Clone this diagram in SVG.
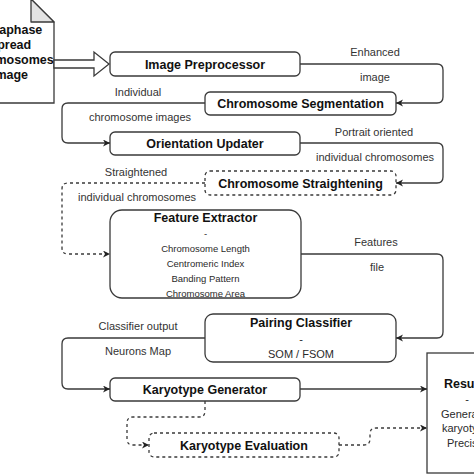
<svg xmlns="http://www.w3.org/2000/svg" width="474" height="474" viewBox="0 0 474 474">
<defs>
<style>
.box{fill:#fff;stroke:#3a3a3a;stroke-width:1.3}
.dash{stroke-dasharray:3 3}
.con{fill:none;stroke:#3a3a3a;stroke-width:1.3}
.t{font-family:"Liberation Sans",Arial,sans-serif;font-weight:bold;font-size:12.5px;fill:#111;text-anchor:middle}
.s{font-family:"Liberation Sans",Arial,sans-serif;font-size:9.5px;fill:#2a2a2a;text-anchor:middle}
.m{font-family:"Liberation Sans",Arial,sans-serif;font-size:11px;fill:#2a2a2a;text-anchor:middle}
.l{font-family:"Liberation Sans",Arial,sans-serif;font-size:11px;fill:#333;text-anchor:middle}
</style>
<marker id="arr" markerUnits="userSpaceOnUse" markerWidth="8" markerHeight="8" refX="7" refY="3.5" orient="auto">
<path d="M0,0 L7,3.5 L0,7 L2,3.5 Z" fill="#222"/>
</marker>
</defs>
<rect width="474" height="474" fill="#fff"/>

<g id="input-image">
<path class="box" d="M-32,-1 H31 L54,22 V103 H-32 Z"/>
<path d="M31,-1 V22 H54 Z" fill="#e3e3e3" stroke="#3a3a3a" stroke-width="1.3" stroke-linejoin="round"/>
<text class="t" x="10" y="34">Metaphase</text>
<text class="t" x="10" y="49">Spread</text>
<text class="t" x="10" y="64">Chromosomes</text>
<text class="t" x="10" y="79">Image</text>
</g>

<g id="input-arrow">
<path class="box" d="M54,60 H94 V52 L109,64 L94,76 V68 H54 Z"/>
</g>

<g id="image-preprocessor">
<rect class="box" x="110" y="52" width="190" height="24" rx="5"/>
<text class="t" x="205" y="68.5">Image Preprocessor</text>
</g>

<g id="chromosome-segmentation">
<rect class="box" x="205" y="92" width="191" height="23" rx="5"/>
<text class="t" x="300.5" y="108">Chromosome Segmentation</text>
</g>

<g id="orientation-updater">
<rect class="box" x="110" y="132" width="190" height="23" rx="5"/>
<text class="t" x="205" y="148">Orientation Updater</text>
</g>

<g id="chromosome-straightening">
<rect class="box dash" x="205" y="171" width="191" height="24" rx="5"/>
<text class="t" x="300.5" y="187.5">Chromosome Straightening</text>
</g>

<g id="feature-extractor">
<rect class="box" x="110" y="210" width="191" height="88" rx="12"/>
<text class="t" x="205.5" y="222">Feature Extractor</text>
<text class="s" x="205.5" y="237">-</text>
<text class="s" x="205.5" y="252">Chromosome Length</text>
<text class="s" x="205.5" y="267">Centromeric Index</text>
<text class="s" x="205.5" y="282">Banding Pattern</text>
<text class="s" x="205.5" y="297">Chromosome Area</text>
</g>

<g id="pairing-classifier">
<rect class="box" x="205" y="314" width="191" height="48" rx="8"/>
<text class="t" x="301" y="327">Pairing Classifier</text>
<text class="m" x="301" y="343">-</text>
<text class="m" x="301" y="358">SOM / FSOM</text>
</g>

<g id="karyotype-generator">
<rect class="box" x="110" y="378" width="190" height="23" rx="5"/>
<text class="t" x="205" y="394">Karyotype Generator</text>
</g>

<g id="karyotype-evaluation">
<rect class="box dash" x="149" y="433" width="190" height="24" rx="5"/>
<text class="t" x="244" y="449.5">Karyotype Evaluation</text>
</g>

<g id="results">
<rect class="box" x="427" y="353" width="90" height="120"/>
<text class="t" x="466.5" y="388">Results</text>
<text class="m" x="467" y="403">-</text>
<text class="m" x="441" y="418" style="text-anchor:start">Generated</text>
<text class="m" x="442" y="432" style="text-anchor:start">karyotype</text>
<text class="m" x="447" y="447" style="text-anchor:start">Precision</text>
</g>

<g id="connectors">
<path class="con" marker-end="url(#arr)" d="M300,64 H437 Q443,64 443,70 V97 Q443,103 437,103 H396"/>
<path class="con" marker-end="url(#arr)" d="M205,103 H68 Q62,103 62,109 V137 Q62,143 68,143 H110"/>
<path class="con" marker-end="url(#arr)" d="M300,143 H437 Q443,143 443,149 V177 Q443,183 437,183 H396"/>
<path class="con dash" marker-end="url(#arr)" d="M205,183 H68 Q62,183 62,189 V248 Q62,254 68,254 H110"/>
<path class="con" marker-end="url(#arr)" d="M301,254 H437 Q443,254 443,260 V332 Q443,338 437,338 H396"/>
<path class="con" marker-end="url(#arr)" d="M205,338 H68 Q62,338 62,344 V383 Q62,389 68,389 H110"/>
<path class="con" marker-end="url(#arr)" d="M300,389 H427"/>
<path class="con dash" marker-end="url(#arr)" d="M205,401 V411 Q205,417 199,417 H133 Q127,417 127,423 V439 Q127,445 133,445 H149"/>
<path class="con dash" marker-end="url(#arr)" d="M339,445 H364 Q370,445 370,439 V434 Q370,428 376,428 H427"/>
<text class="l" x="375" y="56">Enhanced</text>
<text class="l" x="375" y="80.5">image</text>
<text class="l" x="138" y="95.5">Individual</text>
<text class="l" x="140" y="120.5">chromosome images</text>
<text class="l" x="374" y="135.5">Portrait oriented</text>
<text class="l" x="375" y="160.5">individual chromosomes</text>
<text class="l" x="136" y="175.5">Straightened</text>
<text class="l" x="137" y="200.5">individual chromosomes</text>
<text class="l" x="376" y="246">Features</text>
<text class="l" x="377" y="271">file</text>
<text class="l" x="138" y="329.5">Classifier output</text>
<text class="l" x="138" y="355">Neurons Map</text>
</g>
</svg>
